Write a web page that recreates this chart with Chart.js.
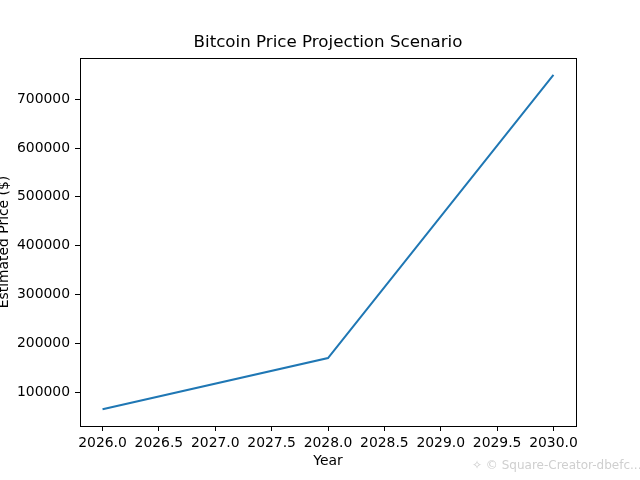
<!DOCTYPE html>
<html>
<head>
<meta charset="utf-8">
<script src="https://cdn.jsdelivr.net/npm/chart.js@4"></script>
<style>
  html, body { margin: 0; padding: 0; background: #fff; }
  #wrap { position: relative; width: 640px; height: 480px; }
  #wm { position: absolute; left: 472px; top: 458px; font: 12px "DejaVu Sans", sans-serif; color: #cfcfcf; white-space: nowrap; }
</style>
</head>
<body>
<div id="wrap">
<canvas id="c" width="640" height="480"></canvas>
<div id="wm">&#x2727; © Square-Creator-dbefc...</div>
</div>
<script>
const titleText = "Bitcoin Price Projection Scenario";
const xTitle = "Year";
const yTitle = "Estimated Price ($)";
const years = [2026, 2028, 2030];
const prices = [65000, 170000, 750000];
const xTicks = [2026.0, 2026.5, 2027.0, 2027.5, 2028.0, 2028.5, 2029.0, 2029.5, 2030.0];
const yTicks = [100000, 200000, 300000, 400000, 500000, 600000, 700000];

const FONT = "'DejaVu Sans', sans-serif";

const frame = {
  id: 'frame',
  afterDatasetsDraw(chart) {
    const a = chart.chartArea, ctx = chart.ctx;
    ctx.save();
    ctx.strokeStyle = '#000';
    ctx.lineWidth = 1;
    ctx.strokeRect(Math.round(a.left) + 0.5, Math.round(a.top) + 0.5, Math.round(a.right - a.left), Math.round(a.bottom - a.top));
    ctx.restore();
  }
};

new Chart(document.getElementById('c'), {
  type: 'line',
  data: {
    datasets: [{
      data: years.map((x, i) => ({ x: x, y: prices[i] })),
      borderColor: '#1f77b4',
      borderWidth: 2,
      pointRadius: 0,
      fill: false,
      tension: 0
    }]
  },
  options: {
    responsive: false,
    devicePixelRatio: 1,
    animation: false,
    layout: { padding: { left: 0, right: 64, top: 0, bottom: 0 } },
    plugins: {
      legend: { display: false },
      tooltip: { enabled: false },
      title: {
        display: true,
        fullSize: false,
        text: titleText,
        color: '#000',
        font: { family: FONT, size: 16.7, weight: 'normal', lineHeight: 1.2 },
        padding: { top: 33, bottom: 5 }
      }
    },
    scales: {
      x: {
        type: 'linear',
        min: 2025.8,
        max: 2030.2,
        afterFit(s) { s.height = 54; },
        afterBuildTicks(s) { s.ticks = xTicks.map(v => ({ value: v })); },
        ticks: {
          color: '#000',
          padding: 4,
          maxRotation: 0,
          autoSkip: false,
          font: { family: FONT, size: 13.9 },
          callback: v => Number(v).toFixed(1)
        },
        grid: { drawOnChartArea: false, drawTicks: true, tickLength: 5, tickColor: '#000', tickWidth: 1 },
        border: { display: true, color: '#000', width: 1 },
        title: { display: true, text: xTitle, color: '#000', font: { family: FONT, size: 13.9 }, padding: { top: 0, bottom: 10 } }
      },
      y: {
        type: 'linear',
        min: 30750,
        max: 784250,
        afterFit(s) { s.width = 80; },
        afterBuildTicks(s) { s.ticks = yTicks.map(v => ({ value: v })); },
        ticks: {
          color: '#000',
          padding: 5,
          autoSkip: false,
          font: { family: FONT, size: 13.9 },
          callback: v => String(v)
        },
        grid: { drawOnChartArea: false, drawTicks: true, tickLength: 5, tickColor: '#000', tickWidth: 1 },
        border: { display: true, color: '#000', width: 1 },
        title: { display: true, text: yTitle, color: '#000', font: { family: FONT, size: 13.9 }, padding: { top: -4, bottom: 0 } }
      }
    }
  },
  plugins: [frame]
});
</script>
</body>
</html>
